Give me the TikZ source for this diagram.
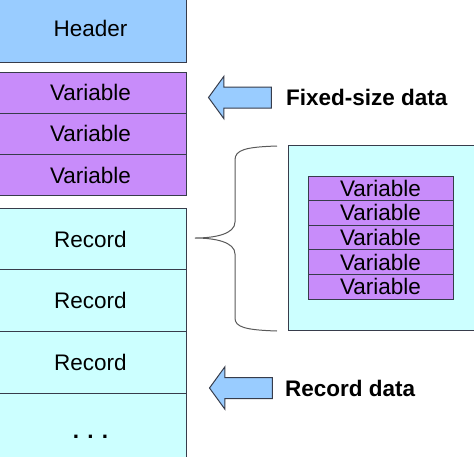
\documentclass[tikz,border=0pt]{standalone}
\usepackage{fontspec}
\setmainfont{Liberation Sans}
\usetikzlibrary{positioning,shapes.arrows}
\definecolor{hdrblue}{RGB}{153,204,255}
\definecolor{varpurple}{RGB}{200,140,250}
\definecolor{reccyan}{RGB}{204,255,255}
\definecolor{edgegray}{RGB}{55,60,75}

\begin{document}
\begin{tikzpicture}[x=1pt, y=-1pt,
  nodes = {font=\fontsize{22.5}{27}\selectfont},
  cell/.style = {draw=edgegray, line width=1pt, outer sep=0pt,
    inner sep=0pt, minimum width=191pt},
  header/.style = {cell, fill=hdrblue, minimum height=67pt},
  var/.style = {cell, fill=varpurple, minimum height=41.3pt},
  record/.style = {cell, fill=reccyan, minimum height=61.7pt},
  innervar/.style = {var, minimum width=145pt, minimum height=24.6pt},
  pointer/.style = {single arrow, shape border rotate=180,
    draw=edgegray, fill=hdrblue, line width=1pt,
    minimum height=63pt, minimum width=41pt, inner sep=10pt,
    single arrow head extend=10.5pt, single arrow tip angle=108},
  note/.style = {font=\bfseries\fontsize{22.5}{27}\selectfont,
    anchor=west, inner sep=0pt},
  brace/.style = {draw=black!65, line width=1pt}
  ]
  \useasboundingbox (0,0) rectangle (474,456);
  % left column
  \node (header) [header] at (90.5,28.5) {Header};
  \node (var1) [var] at (90.5,92.65) {Variable};
  \node (var2) [var, below=0pt of var1] {Variable};
  \node (var3) [var, below=0pt of var2] {Variable};
  \node (rec1) [record] at (90.5,239) {Record};
  \node (rec2) [record, below=0pt of rec1] {Record};
  \node (rec3) [record, below=0pt of rec2] {Record};
  \node (more) [record, below=0pt of rec3, minimum height=88pt]
    {\textbf{. . .}};

  % record detail
  \node (group) [cell, fill=reccyan, minimum width=192pt,
    minimum height=185pt, anchor=north west] at (288,145) {};
  \node (iv1) [innervar] at (380.5,188.3) {Variable};
  \node (iv2) [innervar, below=0pt of iv1] {Variable};
  \node (iv3) [innervar, below=0pt of iv2] {Variable};
  \node (iv4) [innervar, below=0pt of iv3] {Variable};
  \node (iv5) [innervar, below=0pt of iv4] {Variable};
  \draw[brace] (277,146) .. controls (245,147) and (235,150) .. (235,160)
    -- (235,222) .. controls (235,234) and (215,238) .. (195,238)
    .. controls (215,238) and (235,242) .. (235,254)
    -- (235,318) .. controls (235,327) and (245,330) .. (277,331);

  % pointers
  \node (fixednote) [note] at (286,97.5) {Fixed-size data};
  \node (fixedptr) [pointer, left=14pt of fixednote] {};
  \node (recnote) [note] at (285,388) {Record data};
  \node (recptr) [pointer, left=12pt of recnote] {};
\end{tikzpicture}
\end{document}
